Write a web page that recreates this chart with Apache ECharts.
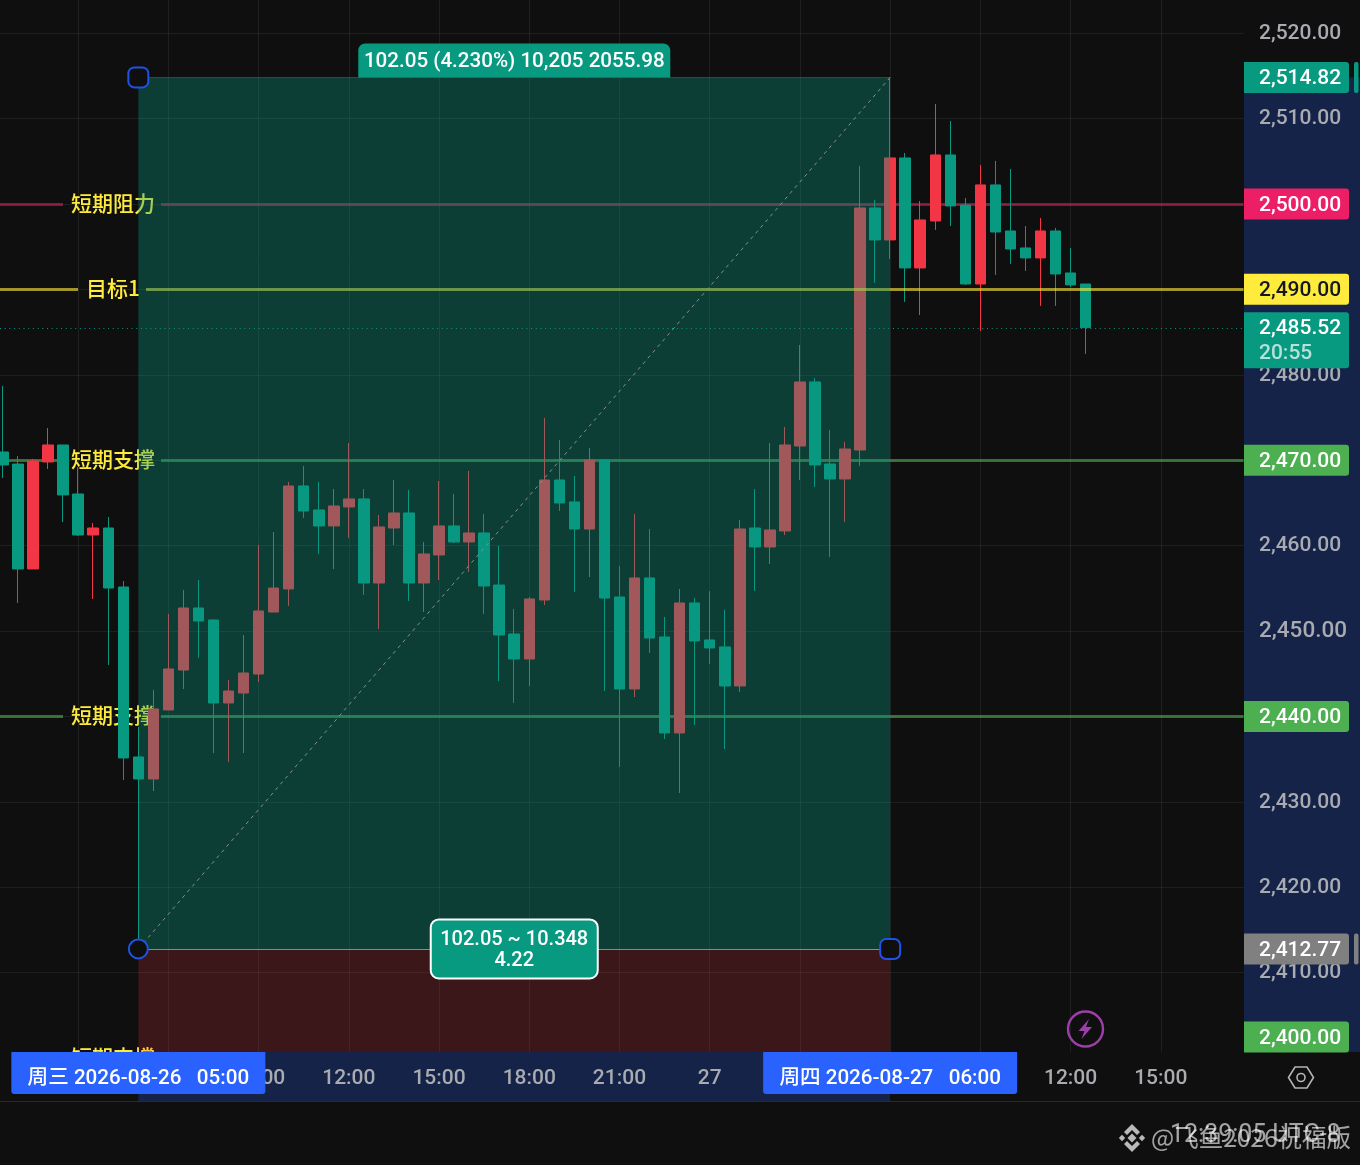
<!DOCTYPE html>
<html><head><meta charset="utf-8">
<style>html,body{margin:0;padding:0;background:#0f0f0f}#c{width:1360px;height:1165px}</style>
<script src="https://cdn.jsdelivr.net/npm/echarts@6/dist/echarts.min.js"></script>
</head><body><div id="c"></div>
<script>
// ---- data ----
const opens = [2470.96,2469.55,2457.26,2469.79,2471.78,2466.04,2461.24,2462.06,2455.15,2435.25,2432.67,2440.75,2445.43,2452.69,2451.29,2441.57,2442.74,2444.96,2452.22,2454.92,2466.98,2464.17,2462.30,2464.52,2465.46,2455.62,2462.06,2463.82,2455.62,2458.90,2462.30,2460.42,2461.48,2455.38,2449.65,2446.72,2453.63,2467.68,2465.11,2461.94,2470.02,2453.98,2443.21,2456.21,2449.30,2438.06,2453.28,2448.95,2448.13,2443.56,2462.06,2459.84,2461.71,2471.66,2479.16,2469.55,2467.80,2471.19,2499.53,2495.79,2505.39,2492.51,2498.01,2505.74,2499.88,2490.63,2502.23,2496.84,2494.85,2493.68,2496.84,2491.92,2490.63];
const closes = [2469.44,2457.26,2469.91,2471.78,2465.93,2461.24,2462.06,2455.03,2435.13,2432.67,2440.87,2445.55,2452.69,2451.17,2441.57,2442.97,2445.08,2452.34,2455.03,2466.98,2464.05,2462.30,2464.64,2465.46,2455.62,2462.18,2463.82,2455.62,2459.02,2462.30,2460.42,2461.48,2455.27,2449.53,2446.72,2453.75,2467.68,2464.99,2461.94,2470.02,2453.86,2443.21,2456.21,2449.18,2438.06,2453.28,2448.83,2448.01,2443.56,2461.94,2459.84,2461.83,2471.78,2479.16,2469.44,2467.80,2471.31,2499.53,2495.79,2505.39,2492.51,2498.13,2505.74,2499.77,2490.63,2502.23,2496.72,2494.73,2493.68,2496.84,2491.80,2490.52,2485.52];
const lows = [2467.91,2453.28,2457.26,2468.97,2462.76,2461.13,2453.75,2446.02,2432.55,2412.77,2431.26,2440.75,2443.21,2446.84,2435.71,2434.66,2435.71,2444.03,2452.22,2452.93,2463.23,2459.02,2457.26,2460.89,2454.22,2450.23,2460.07,2453.51,2452.22,2455.97,2460.30,2456.91,2451.99,2444.14,2441.57,2443.56,2453.04,2464.05,2454.57,2456.32,2442.97,2434.07,2442.27,2447.42,2437.35,2431.03,2438.99,2446.13,2436.18,2442.86,2454.68,2457.85,2461.24,2467.68,2466.86,2458.67,2462.76,2469.32,2490.75,2493.56,2488.53,2487.00,2496.96,2497.42,2490.52,2485.13,2491.69,2492.98,2492.16,2488.06,2488.06,2490.28,2482.44];
const highs = [2478.69,2470.49,2470.14,2473.77,2471.78,2469.20,2462.65,2463.35,2455.85,2438.76,2443.09,2451.99,2454.80,2455.97,2451.29,2444.26,2449.53,2460.07,2461.59,2467.45,2469.32,2467.45,2466.63,2472.01,2466.63,2463.58,2467.68,2466.51,2460.42,2467.56,2466.04,2468.74,2463.70,2459.95,2452.58,2453.98,2474.94,2472.37,2468.15,2471.43,2470.14,2457.61,2463.70,2461.94,2451.64,2454.92,2453.86,2454.68,2452.46,2463.00,2466.63,2472.01,2473.89,2483.49,2479.63,2473.54,2472.13,2504.45,2500.47,2514.82,2505.97,2500.35,2511.71,2509.72,2500.70,2504.57,2505.04,2504.10,2497.42,2498.36,2497.19,2494.85,2490.63];
const categories = [];
for (let i = 0; i < 83; i++) {
  const m = 30 + i * 30, h = Math.floor(m / 60) % 24, mm = m % 60;
  categories.push((h === 0 && mm === 0) ? '27' : String(h).padStart(2,'0') + ':' + String(mm).padStart(2,'0'));
}
const underPrices = [2500, 2470, 2440, 2400];
const underColors = ['rgba(233,30,99,.55)','rgba(76,175,80,.6)','rgba(76,175,80,.6)','rgba(76,175,80,.6)'];
const underLabels = ['短期阻力','短期支撑','短期支撑','短期支撑'];
const targetPrice = 2490, targetLabel = '目标1';
const lastPrice = 2485.52;
const measureHigh = 2514.82, measureLow = 2412.77, stopLow = 2400;
const measureStart = 9, measureEnd = 59;
const topPillText = '102.05 (4.230%) 10,205 2055.98';
const bottomPillText = ['102.05 ~ 10.348', '4.22'];
const pillDates = ['周三 2026-08-26   05:00', '周四 2026-08-27   06:00'];
const tagPrices = [2514.82, 2500, 2490, 2485.52, 2470, 2440, 2412.77, 2400];
const tagTexts = ['2,514.82','2,500.00','2,490.00','2,485.52','2,470.00','2,440.00','2,412.77','2,400.00'];
const tagFills = ['#089981','#ec1f66','#ffeb3b','#089981','#4caf50','#4caf50','#808080','#4caf50'];
const countdown = '20:55';
const clockText = '12:39:05 UTC-8', watermark = '@飞鱼2026祝福版';

// ---- chart ----
const NUM = 'Roboto, "Noto Sans CJK SC", sans-serif';
const CJK = '"Noto Sans CJK SC", Roboto, sans-serif';
const BG = '#0f0f0f', BAND = '#152349', TEAL = '#089981', RED = '#f23645', BLUE = '#1e53e5';
const AXISINK = '#a9abb0';
const NUMFONT = '500 21px ' + NUM;
const candleData = opens.map((o, i) => [o, closes[i], lows[i], highs[i]]);
const fmtTick = v => v.toLocaleString('en-US', {minimumFractionDigits: 2, maximumFractionDigits: 2});

function helper(z, renderItem) {
  return {type: 'custom', xAxisIndex: 1, yAxisIndex: 0, z, silent: true, clip: false,
    data: [[0, stopLow]], encode: {x: 0, y: 1}, renderItem};
}
function txt(text, x, y, fill, font, align) {
  return {type: 'text', style: {text, x, y, fill, font, align: align || 'left', verticalAlign: 'middle'}};
}
function num(text, x, y, fill, align, font) { return txt(text, x, y + 1.5, fill, font || NUMFONT, align); }
function hline(x1, x2, y, stroke, width) {
  return {type: 'line', shape: {x1, y1: y, x2, y2: y}, style: {stroke, lineWidth: width || 3}};
}
const lineGaps = [[63, 161], [58, 161], [63, 161], [63, 161]];

const rightBand = helper(0, (p, api) => {
  const y = api.coord([0, measureHigh])[1];
  return {type: 'rect', shape: {x: 1244, y, width: 116, height: 1052 - y}, style: {fill: BAND}};
});
const underLines = helper(2, (p, api) => {
  const right = api.coord([82.5, 0])[0], kids = [];
  underPrices.forEach((pr, i) => {
    const y = Math.round(api.coord([0, pr])[1]) + .5;
    kids.push(hline(0, lineGaps[i][0], y, underColors[i]));
    kids.push(hline(lineGaps[i][1], right, y, underColors[i]));
    kids.push(txt(underLabels[i], 71, y - 1, '#ffeb3b', '500 21px ' + CJK));
  });
  const ly = Math.round(api.coord([0, lastPrice])[1]) + .5;
  kids.push({type: 'line', shape: {x1: 0, y1: ly, x2: right, y2: ly}, style: {stroke: TEAL, lineWidth: 1, lineDash: [1, 3.7]}});
  return {type: 'group', children: kids};
});
const targetLine = helper(4, (p, api) => {
  const right = api.coord([82.5, 0])[0], y = Math.round(api.coord([0, targetPrice])[1]) + .5;
  return {type: 'group', children: [
    hline(0, 78, y, 'rgba(255,235,59,.6)'),
    hline(146, right, y, 'rgba(255,235,59,.6)'),
    txt(targetLabel, 86, y - 1, '#ffeb3b', '500 21px ' + CJK)
  ]};
});
const overlay = helper(5, (p, api) => {
  const a = api.coord([measureStart, measureHigh]), b = api.coord([measureEnd, measureLow]), c = api.coord([measureEnd, stopLow]);
  return {type: 'group', children: [
    {type: 'rect', shape: {x: a[0], y: a[1], width: b[0] - a[0], height: b[1] - a[1]}, style: {fill: 'rgba(8,153,129,.35)'}},
    {type: 'rect', shape: {x: a[0], y: b[1], width: b[0] - a[0], height: c[1] - b[1]}, style: {fill: 'rgba(242,54,69,.2)'}},
    hline(a[0], b[0], Math.round(a[1]) + .5, 'rgba(8,153,129,.45)', 1)
  ]};
});
const measureMarks = helper(6, (p, api) => {
  const a = api.coord([measureStart, measureHigh]), b = api.coord([measureEnd, measureLow]);
  const cx = (a[0] + b[0]) / 2;
  return {type: 'group', children: [
    {type: 'line', shape: {x1: a[0], y1: b[1], x2: b[0], y2: a[1]}, style: {stroke: '#8c8c8c', lineWidth: 1, lineDash: [3.5, 4]}},
    hline(a[0], b[0], Math.round(b[1]) + .5, '#8a8a8a', 1),
    {type: 'rect', shape: {x: a[0] - 10, y: a[1] - 10, width: 20, height: 20, r: 6}, style: {fill: BG, stroke: BLUE, lineWidth: 2}},
    {type: 'rect', shape: {x: b[0] - 10, y: b[1] - 10, width: 20, height: 20, r: 6}, style: {fill: BG, stroke: BLUE, lineWidth: 2}},
    {type: 'circle', shape: {cx: a[0], cy: b[1], r: 9.5}, style: {fill: BG, stroke: BLUE, lineWidth: 2}},
    {type: 'rect', shape: {x: cx - 156, y: a[1] - 34, width: 312, height: 34, r: [7, 7, 0, 0]}, style: {fill: TEAL}},
    txt(topPillText, cx, a[1] - 16, '#fff', '500 20.6px ' + NUM, 'center'),
    {type: 'rect', shape: {x: cx - 83.5, y: b[1] - 29.5, width: 167, height: 59, r: 8}, style: {fill: TEAL, stroke: '#fff', lineWidth: 2}},
    num(bottomPillText[0], cx, b[1] - 10, '#fff', 'center', '500 20px ' + NUM),
    num(bottomPillText[1], cx, b[1] + 11, '#fff', 'center', '500 20px ' + NUM)
  ]};
});
const strip = helper(10, (p, api) => {
  const a = api.coord([measureStart, 0])[0], b = api.coord([measureEnd, 0])[0];
  return {type: 'group', children: [
    {type: 'rect', shape: {x: 0, y: 1052, width: 1360, height: 113}, style: {fill: BG}},
    {type: 'rect', shape: {x: a, y: 1052, width: b - a, height: 49}, style: {fill: BAND}},
    hline(0, 1360, 1101.5, '#2a2a2a', 1)
  ]};
});
const topMarks = helper(12, (p, api) => {
  const kids = [];
  tagPrices.forEach((pr, i) => {
    const y = Math.min(api.coord([0, pr])[1], 1037);
    const tall = pr === lastPrice;
    const top = y - 15.5, h = tall ? 56 : 31;
    kids.push({type: 'rect', shape: {x: 1244, y: top, width: 105, height: h, r: [0, 3, 3, 0]}, style: {fill: tagFills[i]}});
    kids.push(num(tagTexts[i], 1259, y, pr === targetPrice ? '#131722' : '#fff'));
    if (tall) kids.push(num(countdown, 1259, y + 25, 'rgba(255,255,255,.7)'));
    if (pr === measureHigh || pr === measureLow)
      kids.push({type: 'rect', shape: {x: 1354, y: top, width: 4.5, height: 31, r: 2}, style: {fill: tagFills[i]}});
  });
  [measureStart, measureEnd].forEach((idx, i) => {
    const x = api.coord([idx, 0])[0];
    kids.push({type: 'rect', shape: {x: x - 127, y: 1052, width: 254, height: 42, r: [0, 0, 3, 3]}, style: {fill: '#2962ff'}});
    kids.push(num(pillDates[i], x, 1077, '#fff', 'center', '500 20.6px ' + NUM));
  });
  kids.push({type: 'circle', shape: {cx: 1085.5, cy: 1029, r: 17.5}, style: {fill: 'none', stroke: '#9c3fa8', lineWidth: 2.4}});
  kids.push({type: 'polygon', shape: {points: [[1089, 1019], [1078.5, 1031], [1084.5, 1031], [1081.5, 1039], [1092, 1027], [1086, 1027]]}, style: {fill: '#9c3fa8'}});
  kids.push({type: 'polygon', shape: {points: [[1288.5, 1077.5], [1295, 1067], [1307, 1067], [1313.5, 1077.5], [1307, 1088], [1295, 1088]]}, style: {fill: 'none', stroke: '#b4b4b4', lineWidth: 1.6}});
  kids.push({type: 'circle', shape: {cx: 1301, cy: 1077.5, r: 4}, style: {fill: 'none', stroke: '#b4b4b4', lineWidth: 1.6}});
  const g = '#b9b9b9';
  [[1132, 1138, 4.5], [1122, 1138, 3.2], [1142, 1138, 3.2]].forEach(d => kids.push({type: 'polygon', shape: {points: [[d[0] - d[2], d[1]], [d[0], d[1] - d[2]], [d[0] + d[2], d[1]], [d[0], d[1] + d[2]]]}, style: {fill: g}}));
  kids.push({type: 'polygon', shape: {points: [[1132, 1124], [1140, 1132], [1137, 1135], [1132, 1130], [1127, 1135], [1124, 1132]]}, style: {fill: g}});
  kids.push({type: 'polygon', shape: {points: [[1132, 1152], [1140, 1144], [1137, 1141], [1132, 1146], [1127, 1141], [1124, 1144]]}, style: {fill: g}});
  kids.push(txt(clockText, 1170, 1136, 'rgba(255,255,255,.62)', '25px ' + NUM));
  kids.push(txt(watermark, 1151, 1138, 'rgba(255,255,255,.62)', '24.5px ' + CJK));
  return {type: 'group', children: kids};
});

const gridLine = {show: true, lineStyle: {color: 'rgba(255,255,255,.065)', width: 1}};
const every3h = i => i % 6 === 5;
const option = {
  animation: false,
  backgroundColor: BG,
  grid: {left: -4.5, top: -1, width: 1248, height: 1059, containLabel: false, outerBoundsMode: 'none'},
  xAxis: [
    {type: 'category', data: categories, position: 'bottom', z: 1, boundaryGap: true,
      axisLine: {show: false}, axisTick: {show: false, alignWithLabel: true}, axisLabel: {show: false},
      splitLine: Object.assign({interval: every3h, alignWithLabel: true}, gridLine)},
    {type: 'value', min: -0.5, max: 82.5, show: false, splitLine: {show: false}},
    {type: 'category', data: categories, position: 'bottom', z: 11, boundaryGap: true,
      axisLine: {show: false}, axisTick: {show: false}, splitLine: {show: false},
      axisLabel: {show: true, interval: every3h, color: AXISINK, fontSize: 21, fontWeight: 500, fontFamily: NUM, margin: 10, hideOverlap: false}}
  ],
  yAxis: [{
    type: 'value', min: 2400, max: 2524, interval: 10, position: 'right', z: 1, scale: true,
    axisLine: {show: false}, axisTick: {show: false}, splitLine: gridLine,
    axisLabel: {show: true, margin: 15.5, color: AXISINK, fontSize: 21, fontWeight: 500, fontFamily: NUM, showMaxLabel: false, padding: [1, 0, 0, 0],
      formatter: v => v % 10 ? '' : (v === 2450 ? '{big|' + fmtTick(v) + '}' : fmtTick(v)),
      rich: {big: {fontSize: 22.5, fontWeight: 500, fontFamily: NUM, color: AXISINK}}}
  }],
  series: [
    rightBand, underLines,
    {type: 'candlestick', xAxisIndex: 0, yAxisIndex: 0, z: 3, data: candleData, barWidth: 11, silent: true,
      itemStyle: {color: RED, color0: TEAL, borderColor: RED, borderColor0: TEAL, borderWidth: 1}},
    targetLine, overlay, measureMarks, strip, topMarks
  ]
};
echarts.init(document.getElementById('c'), null, {renderer: 'canvas'}).setOption(option);
</script></body></html>
